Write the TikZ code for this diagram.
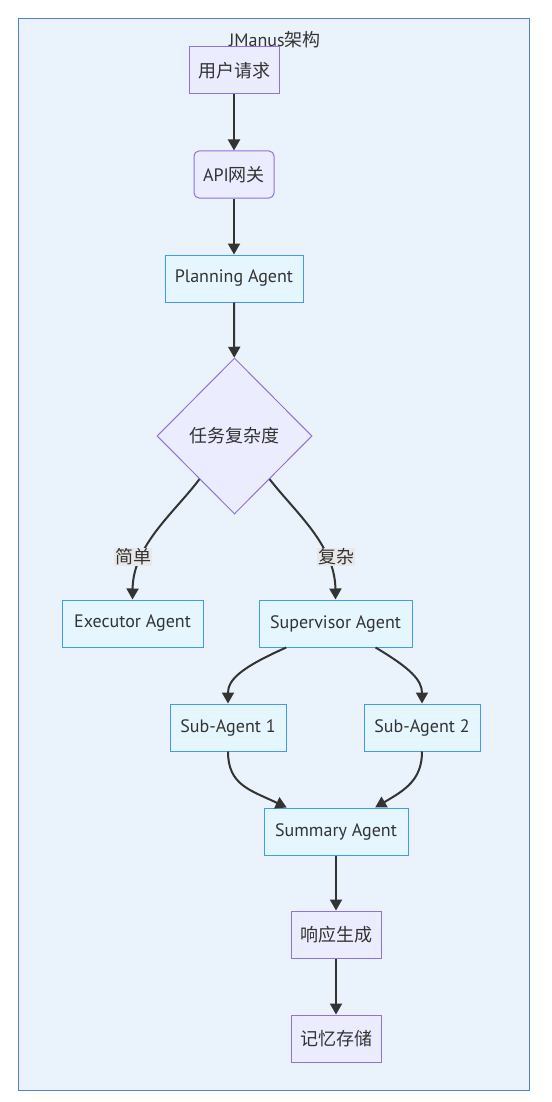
\documentclass[tikz,border=0pt]{standalone}
\usepackage{fontspec}
\setmainfont{PT Sans}
\newfontfamily\cjk{Noto Sans CJK SC}
\usetikzlibrary{arrows.meta,shapes.geometric,calc}
\definecolor{clfill}{HTML}{EAF2FB}
\definecolor{clline}{HTML}{4A86C8}
\definecolor{pfill}{HTML}{ECECFF}
\definecolor{pline}{HTML}{9370DB}
\definecolor{bfill}{HTML}{E6F6FF}
\definecolor{bline}{HTML}{3D9BF0}
\definecolor{edge}{HTML}{333333}
\definecolor{lblbg}{HTML}{E8E8E8}
\tikzset{
  every node/.style={font=\fontsize{18}{21}\selectfont, text=edge, inner sep=0pt},
  pbox/.style={draw=pline, fill=pfill, line width=1pt, minimum height=47pt},
  bbox/.style={draw=bline, fill=bfill, line width=1pt, minimum height=47pt},
  conn/.style={draw=edge, line width=2pt, -{Triangle[length=11pt,width=12pt]}},
  lbl/.style={fill=lblbg, inner sep=1pt},
}
\begin{document}
\begin{tikzpicture}[x=1pt,y=-1pt]
\useasboundingbox (0,0) rectangle (551,1102);
\fill[white] (0,0) rectangle (551,1102);
\draw[draw=clline, fill=clfill, line width=1pt] (18,19) rectangle (529,1090);
\node (title) at (275,40) {JManus\cjk 架构};
\node[pbox, minimum width=90pt] (req) at (234,70.5) {\cjk 用户请求};
\node[pbox, minimum width=80pt, rounded corners=5pt] (api) at (234,174.5) {API\cjk 网关};
\node[bbox, minimum width=138pt] (plan) at (234,278.5) {Planning Agent};
\node[draw=pline, fill=pfill, line width=1pt, diamond, minimum width=155pt, minimum height=156pt] (dec) at (234.5,436) {\cjk 任务复杂度};
\node[bbox, minimum width=141pt] (exec) at (132.5,623.5) {Executor Agent};
\node[bbox, minimum width=153pt] (sup) at (335.5,623.5) {Supervisor Agent};
\node[bbox, minimum width=116pt] (sub1) at (228,727.5) {Sub-Agent 1};
\node[bbox, minimum width=116pt] (sub2) at (422,727.5) {Sub-Agent 2};
\node[bbox, minimum width=144pt] (sum) at (336,831.5) {Summary Agent};
\node[pbox, minimum width=90pt] (resp) at (336,934.5) {\cjk 响应生成};
\node[pbox, minimum width=90pt] (mem) at (336,1038.5) {\cjk 记忆存储};

\coordinate (dl) at ($(dec.west)!0.55!(dec.south)$);
\coordinate (dr) at ($(dec.east)!0.55!(dec.south)$);
\coordinate (s1) at ($(sup.south west)!0.18!(sup.south east)$);
\coordinate (s2) at ($(sup.south west)!0.76!(sup.south east)$);
\coordinate (m1) at ($(sum.north west)!0.16!(sum.north east)$);
\coordinate (m2) at ($(sum.north west)!0.77!(sum.north east)$);

\draw[conn] (req) -- (api);
\draw[conn] (api) -- (plan);
\draw[conn] (plan) -- (dec);
\draw[conn] (dl) .. controls (175,512) and (133,545) .. (exec.north);
\draw[conn] (dr) .. controls (295,512) and (335,545) .. (sup.north);
\draw[conn] (s1) .. controls (240,668) and (228,680) .. (sub1.north);
\draw[conn] (s2) .. controls (410,668) and (422,680) .. (sub2.north);
\draw[conn] (sub1.south) .. controls (228,785) and (250,790) .. (m1);
\draw[conn] (sub2.south) .. controls (422,780) and (405,790) .. (m2);
\draw[conn] (sum) -- (resp);
\draw[conn] (resp) -- (mem);
\node[lbl] (l1) at (133,557) {\cjk 简单};
\node[lbl] (l2) at (336,557) {\cjk 复杂};
\end{tikzpicture}
\end{document}
